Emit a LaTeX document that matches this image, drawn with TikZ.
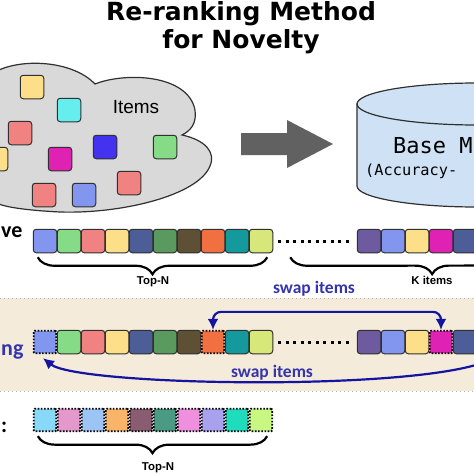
\documentclass[tikz,border=0pt]{standalone}
\usepackage{fontspec}
\usepackage{tikz}
\usetikzlibrary{arrows.meta,decorations.pathreplacing}
\newfontfamily\titlefont{DejaVu Sans}
\newfontfamily\labelfont{Liberation Sans}
\newfontfamily\codefont{DejaVu Sans Mono}
\newfontfamily\notefont{Carlito}
\definecolor{itemline}{HTML}{303030}
\definecolor{peri}{HTML}{8296F0}
\definecolor{lgreen}{HTML}{86DC86}
\definecolor{salmon}{HTML}{F08282}
\definecolor{yellow}{HTML}{FDDF8A}
\definecolor{slate}{HTML}{4C5D98}
\definecolor{green}{HTML}{5A9A5E}
\definecolor{brown}{HTML}{5E5035}
\definecolor{orange}{HTML}{F07042}
\definecolor{teal}{HTML}{14999C}
\definecolor{lime}{HTML}{D8E77A}
\definecolor{purple}{HTML}{6E5A9E}
\definecolor{magenta}{HTML}{E022B4}
\definecolor{cyan}{HTML}{66EEEE}
\definecolor{blue}{HTML}{4433EE}
\definecolor{skyblue}{HTML}{88D8F8}
\definecolor{pink}{HTML}{E498CC}
\definecolor{lblue}{HTML}{9CC4F4}
\definecolor{apricot}{HTML}{F8B468}
\definecolor{mauve}{HTML}{8A5C72}
\definecolor{seagreen}{HTML}{4A9A84}
\definecolor{orchid}{HTML}{EE90DE}
\definecolor{lavender}{HTML}{A8A2EE}
\definecolor{aqua}{HTML}{1EDCBC}
\definecolor{lime2}{HTML}{C8F882}
\definecolor{cloudgrey}{HTML}{D9D9D9}
\definecolor{cylblue}{HTML}{CFE2F5}
\definecolor{bandbg}{HTML}{F4EBDA}
\definecolor{swapblue}{HTML}{1414A0}
\definecolor{notblue}{HTML}{3434AC}

\begin{document}
\begin{tikzpicture}[x=1pt, y=-1pt,
item/.style={draw=itemline, line width=1pt, rounded corners=3pt, minimum size=23.5pt, inner sep=0pt},
dotitem/.style={draw=black, line width=1.8pt, dash pattern=on 1.6pt off 1.6pt, rounded corners=1pt, minimum size=22.5pt, inner sep=0pt},
brc/.style={decorate, decoration={brace, mirror, amplitude=17pt}, line width=2.2pt},
dotline/.style={line width=3pt, dash pattern=on 3pt off 4.5pt},
swap/.style={draw=swapblue, line width=2.2pt, -{Latex[length=11pt, width=11pt]}},
ttl/.style={font=\titlefont\bfseries\fontsize{25}{30}\selectfont, anchor=base},
small/.style={font=\labelfont\bfseries\fontsize{11.4}{13}\selectfont, anchor=base},
note/.style={font=\notefont\bfseries\fontsize{17.5}{21}\selectfont, text=notblue, anchor=base},
side/.style={font=\notefont\bfseries\fontsize{22}{26}\selectfont, anchor=base west, inner sep=0pt}
]
\clip (0,0) rectangle (474,474);
\fill[white] (0,0) rectangle (474,474);

\node[ttl] (title1) at (241,20) {Re-ranking Method};
\node[ttl] (title2) at (241,48) {for Novelty};

\draw[fill=cloudgrey, draw=itemline, line width=1.2pt]
  (-5,72) .. controls (20,58) and (72,60) .. (95,84)
  .. controls (125,72) and (188,74) .. (195,110)
  .. controls (197,124) and (190,131) .. (182,135)
  .. controls (205,140) and (216,152) .. (210,166)
  .. controls (198,196) and (120,214) .. (60,212)
  .. controls (20,210) and (0,206) .. (-5,202) -- cycle;
\node[font=\labelfont\fontsize{19}{22}\selectfont, anchor=base] (items) at (136,113) {Items};
\foreach \c/\x/\y [count=\i] in {yellow/32/87, cyan/69/110, salmon/20/133, blue/105/147, lgreen/165/147, magenta/60/159, yellow/-4/159, salmon/44/195, peri/84/195, salmon/129/183}
  \node[item, fill=\c] (c\i) at (\x,\y) {};

\fill[black!62] (241,133) -- (287,133) -- (287,120) -- (333,144) -- (287,168) -- (287,155) -- (241,155) -- cycle;

\draw[fill=cylblue, draw=itemline, line width=1.2pt]
  (357,104) -- (357,186) .. controls (357,197.6) and (410.7,207) .. (477,207)
  .. controls (543.3,207) and (597,197.6) .. (597,186) -- (597,104) -- cycle;
\draw[fill=cylblue, draw=itemline, line width=1.2pt] (477,104) ellipse [x radius=120, y radius=21];
\node[font=\codefont\fontsize{22}{26}\selectfont, anchor=base west, inner sep=0pt] (base) at (393,153) {Base M};
\node[font=\codefont\fontsize{15.3}{18}\selectfont, anchor=base west, inner sep=0pt] (acc) at (365,175) {(Accuracy-};

\fill[bandbg] (-2,298) rectangle (476,391);
\draw[black!30, line width=1pt, dash pattern=on 1pt off 3pt] (0,298) -- (474,298);
\draw[black!30, line width=1pt, dash pattern=on 1pt off 3pt] (0,391) -- (474,391);

\foreach \c [count=\i] in {peri,lgreen,salmon,yellow,slate,green,brown,orange,teal,lime}
  \node[item, fill=\c] (a\i) at (21+24*\i,241) {};
\foreach \c [count=\i] in {purple,peri,yellow,magenta,slate}
  \node[item, fill=\c] (ak\i) at (345+24*\i,241) {};
\draw[dotline] ([xshift=5pt]a10.east) -- ([xshift=-5pt]ak1.west);
\draw[brc] ([xshift=5pt,yshift=-4pt]a1.south west) -- ([xshift=-6pt,yshift=-4pt]a10.south east);
\coordinate (kend) at (574,257);
\draw[brc] ([xshift=17pt,yshift=-4pt]a10.south east) -- (kend);
\node[small] (topn1) at (153,284) {Top-N};
\node[small] (kitems) at (432,284) {K items};
\node[side] (lbl1) at (1,237) {ve};

\foreach \c/\s [count=\i] in {peri/dotitem,lgreen/item,salmon/item,yellow/item,slate/item,green/item,brown/item,orange/dotitem,teal/item,lime/item}
  \node[\s, fill=\c] (b\i) at (21+24*\i,342) {};
\foreach \c/\s [count=\i] in {purple/item,peri/item,yellow/item,magenta/dotitem,slate/item}
  \node[\s, fill=\c] (bk\i) at (345+24*\i,342) {};
\draw[dotline] ([xshift=5pt]b10.east) -- ([xshift=-5pt]bk1.west);
\draw[swap, {Latex[length=11pt, width=11pt]}-{Latex[length=11pt, width=11pt]}, rounded corners=8pt]
  (b8.north) |- ([yshift=18pt]bk4.north) -- (bk4.north);
\node[note] (swap1) at (314,293) {swap items};
\coordinate (swapin) at (490,360);
\draw[swap] (swapin) .. controls (420,392) and (78,386) .. ([xshift=-2pt,yshift=-4pt]b1.south);
\node[note] (swap2) at (272,377) {swap items};
\node[side, text=notblue] (lbl2) at (1,355) {ng};

\foreach \c [count=\i] in {skyblue,pink,lblue,apricot,mauve,seagreen,orchid,lavender,aqua,lime2}
  \node[dotitem, fill=\c] (r\i) at (21+24*\i,420) {};
\draw[brc] ([xshift=5pt,yshift=-4pt]r1.south west) -- ([xshift=-6pt,yshift=-4pt]r10.south east);
\node[small] (topn2) at (158,470) {Top-N};
\node[side] (lbl3) at (1,432) {:};
\end{tikzpicture}
\end{document}
